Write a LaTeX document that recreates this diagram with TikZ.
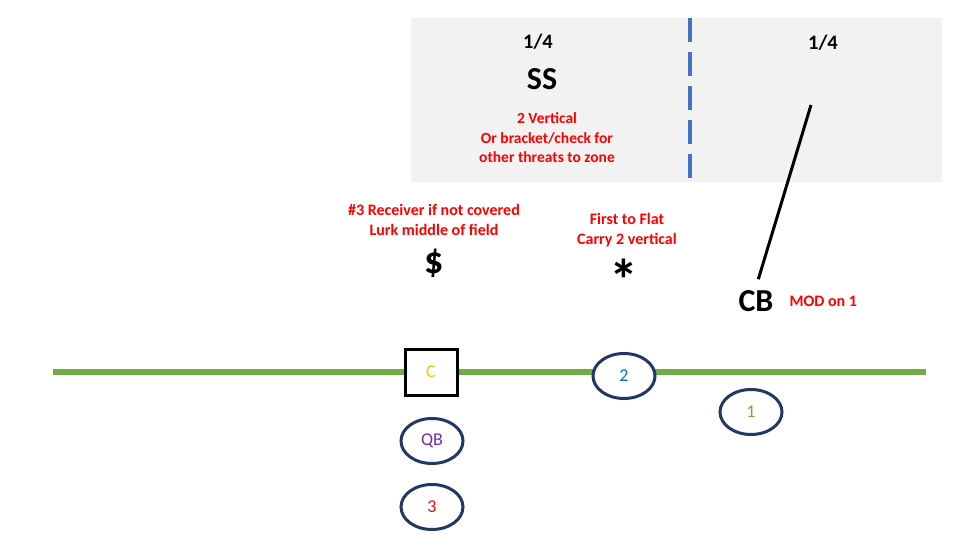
\documentclass[tikz,border=0pt]{standalone}
\usepackage{fontspec}
\setmainfont{Carlito}
\usepackage{xcolor}
\usetikzlibrary{shapes.geometric}
\definecolor{zonegray}{HTML}{F2F2F2}
\definecolor{dashblue}{HTML}{4472C4}
\definecolor{losgreen}{HTML}{70AD47}
\definecolor{navy}{HTML}{1F3864}
\definecolor{cgold}{HTML}{FFC000}
\definecolor{twoblue}{HTML}{0070C0}
\definecolor{qbpurple}{HTML}{7030A0}
\definecolor{notered}{HTML}{FF0000}

\begin{document}
\begin{tikzpicture}[x=1pt,y=-1pt,
	note/.style={text=notered,font=\fontsize{16}{19.5}\selectfont\bfseries,align=center},
	player/.style={ellipse,draw=navy,line width=3pt,fill=white,minimum width=62pt,minimum height=45pt,inner sep=0pt,font=\fontsize{18}{18}\selectfont}]
	\useasboundingbox (0,0) rectangle (975,548);
	\fill[zonegray] (411,18) rectangle (942,182);
	\draw[dashblue,line width=3.2pt,dash pattern=on 24pt off 10pt] (690,18)--(690,180);
	
	\node (q1) at (538,42){\fontsize{20.5}{20.5}\selectfont\bfseries 1/4};
	\node (q2) at (823,43){\fontsize{20.5}{20.5}\selectfont\bfseries 1/4};
	\node (ss) at (542,79){\fontsize{32}{32}\selectfont\bfseries SS};
	\node[note,font=\fontsize{15.5}{19.5}\selectfont\bfseries] (ssnote) at (547,138){2 Vertical\\Or bracket/check for\\other threats to zone};
	
	\node[note] (dnote) at (434,220){\#3 Receiver if not covered\\Lurk middle of field};
	\node (dollar) at (434,263){\fontsize{38}{38}\selectfont\bfseries\$};
	\node[note] (snote) at (627,230){First to Flat\\Carry 2 vertical};
	\node (star) at (624,280){\fontsize{58}{58}\selectfont\bfseries *};
	
	\node (cb) at (756,301){\fontsize{32}{32}\selectfont\bfseries CB};
	\node[note,anchor=west] (mod) at (786,301){MOD on 1};
	\coordinate (deep) at (811,105);
	\draw[line width=3pt,shorten >=8pt] (deep)--(cb.north);
	
	% line of scrimmage
	\coordinate (losl) at (53,372);
	\coordinate (losr) at (926,372);
	\draw[losgreen,line width=5.5pt] (losl)--(losr);
	
	\node[draw,line width=3pt,fill=white,minimum width=52pt,minimum height=46pt,text=cgold,font=\fontsize{18}{18}\selectfont] (c) at (431,372){C};
	\node[player,text=twoblue] (r2) at (624,376){2};
	\node[player,text=losgreen] (r1) at (751,412){1};
	\node[player,text=qbpurple] (qb) at (432,441){QB};
	\node[player,text=notered] (r3) at (432,507){3};
\end{tikzpicture}
\end{document}
